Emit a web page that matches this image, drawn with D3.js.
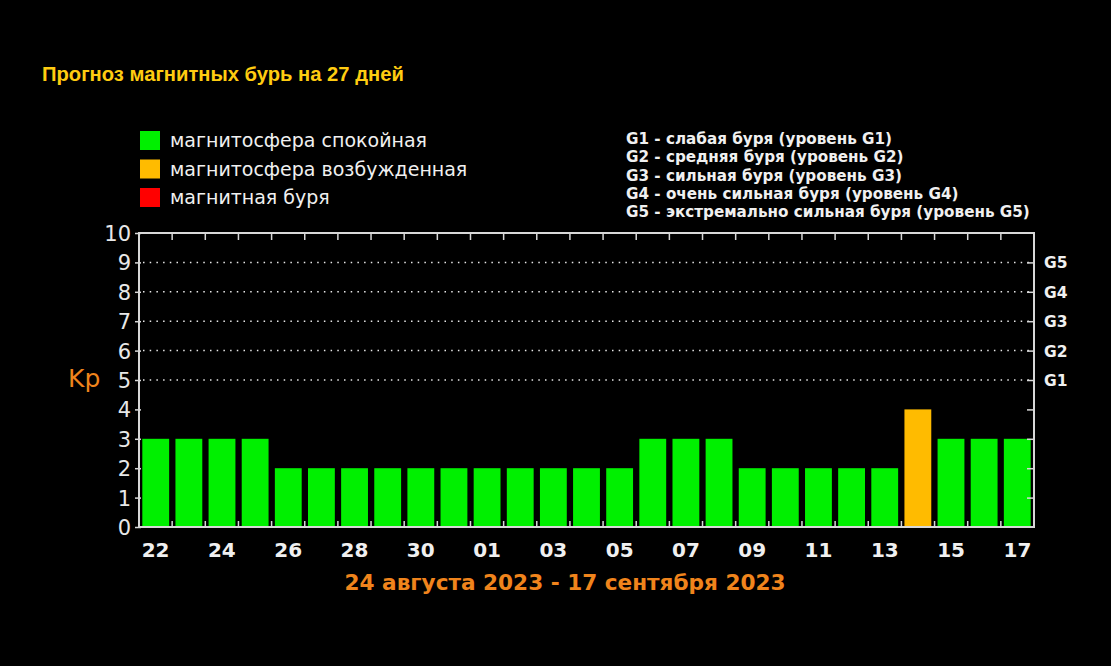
<!DOCTYPE html>
<html>
<head>
    <meta charset="utf-8">
    <title>Прогноз магнитных бурь</title>
    <script src="https://d3js.org/d3.v7.min.js"></script>
    <style>
        body { margin: 0; background: #000; }
    </style>
</head>
<body>
<div id="chart"></div>
<script>

    // days of the forecast (22 Aug - 17 Sep)
    var days = ["22", "23", "24", "25", "26", "27", "28", "29", "30", "31",
        "01", "02", "03", "04", "05", "06", "07", "08", "09", "10",
        "11", "12", "13", "14", "15", "16", "17"];

    // Kp index per day
    var kpValues = [3, 3, 3, 3, 2, 2, 2, 2, 2, 2,
        2, 2, 2, 2, 2, 3, 3, 3, 2, 2,
        2, 2, 2, 4, 3, 3, 3];

    var yTicks = [0, 1, 2, 3, 4, 5, 6, 7, 8, 9, 10];
    var gridLevels = [5, 6, 7, 8, 9];
    var gLabels = ["G1", "G2", "G3", "G4", "G5"];

    var legendItems = ["магнитосфера спокойная", "магнитосфера возбужденная", "магнитная буря"];
    var gNotes = [
        "G1 - слабая буря (уровень G1)",
        "G2 - средняя буря (уровень G2)",
        "G3 - сильная буря (уровень G3)",
        "G4 - очень сильная буря (уровень G4)",
        "G5 - экстремально сильная буря (уровень G5)"
    ];

    var W = 1111, H = 666;
    var pl = 139, pr = 1034, pt = 233, pb = 527;

    var colors = ["#00f000", "#ffbb00", "#ff0000"];
    function colorOf(v) { return v >= 5 ? colors[2] : (v >= 4 ? colors[1] : colors[0]); }

    var svg = d3.select("#chart").append("svg")
        .attr("width", W)
        .attr("height", H)
        .style("background", "#000");

    // title
    svg.append("text")
        .attr("x", 42).attr("y", 81)
        .attr("fill", "#ffcc11")
        .style("font-family", "Liberation Sans, Arial, sans-serif")
        .style("font-weight", "bold")
        .style("font-size", "20.2px")
        .text("Прогноз магнитных бурь на 27 дней");

    // legend on the left
    var leg = svg.append("g");
    legendItems.forEach(function (t, i) {
        leg.append("rect")
            .attr("x", 140).attr("y", 131 + i * 28.5)
            .attr("width", 20).attr("height", 19)
            .attr("fill", colors[i]);
        leg.append("text")
            .attr("x", 170).attr("y", 147 + i * 28.5)
            .attr("fill", "#f0f0f0")
            .style("font-family", "DejaVu Sans, Verdana, sans-serif")
            .style("font-size", "19px")
            .text(t);
    });

    // G notes on the right
    gNotes.forEach(function (t, i) {
        svg.append("text")
            .attr("x", 626).attr("y", 144 + i * 18.3)
            .attr("fill", "#f0f0f0")
            .style("font-family", "DejaVu Sans, Tahoma, sans-serif")
            .style("font-weight", "bold")
            .style("font-size", "15.2px")
            .text(t);
    });

    // scales
    var x = d3.scaleBand()
        .domain(days)
        .range([pl, pr])
        .paddingInner(0.19)
        .paddingOuter(0.1);

    var xEdge = d3.scaleBand()
        .domain(days)
        .range([pl, pr]);

    var y = d3.scaleLinear()
        .domain([0, 10])
        .range([pb, pt]);

    // dotted grid lines
    svg.selectAll("line.grid")
        .data(gridLevels)
        .enter().append("line")
        .attr("class", "grid")
        .attr("x1", pl + 4).attr("x2", pr)
        .attr("y1", function (d) { return y(d); })
        .attr("y2", function (d) { return y(d); })
        .attr("stroke", "#e8e8e8")
        .attr("stroke-width", 1.5)
        .attr("stroke-dasharray", "1.5,5.2");

    // bars
    svg.selectAll("rect.bar")
        .data(kpValues)
        .enter().append("rect")
        .attr("class", "bar")
        .attr("x", function (d, i) { return x(days[i]); })
        .attr("y", function (d) { return y(d); })
        .attr("width", x.bandwidth())
        .attr("height", function (d) { return y(0) - y(d); })
        .attr("fill", function (d) { return colorOf(d); });

    // frame
    var frameColor = "#d8d8d8";
    svg.append("rect")
        .attr("x", pl).attr("y", pt)
        .attr("width", pr - pl).attr("height", pb - pt)
        .attr("fill", "none")
        .attr("stroke", frameColor)
        .attr("stroke-width", 2);

    // ticks at day boundaries, top and bottom
    var edges = days.slice(1).map(function (d) { return xEdge(d); });
    svg.selectAll("line.btick")
        .data(edges)
        .enter().append("line")
        .attr("class", "btick")
        .attr("x1", function (d) { return d; }).attr("x2", function (d) { return d; })
        .attr("y1", pb).attr("y2", pb - 6)
        .attr("stroke", frameColor).attr("stroke-width", 1.5);
    svg.selectAll("line.ttick")
        .data(edges)
        .enter().append("line")
        .attr("class", "ttick")
        .attr("x1", function (d) { return d; }).attr("x2", function (d) { return d; })
        .attr("y1", pt).attr("y2", pt + 7)
        .attr("stroke", frameColor).attr("stroke-width", 1.5);

    // left axis
    var yAxis = d3.axisLeft(y).tickValues(yTicks).tickSize(6).tickPadding(4);
    var ya = svg.append("g")
        .attr("transform", "translate(" + (pl + 2) + ",0)")
        .call(yAxis);
    ya.select(".domain").remove();
    ya.selectAll("line").attr("stroke", frameColor).attr("stroke-width", 1.5);
    ya.selectAll("text")
        .attr("fill", "#e8e8e8")
        .style("font-family", "DejaVu Sans, Verdana, sans-serif")
        .style("font-size", "21px")
        .attr("dy", "0.36em");

    // right axis ticks (inward) with G labels
    var yr = svg.append("g")
        .attr("transform", "translate(" + pr + ",0)")
        .call(d3.axisLeft(y).tickValues(yTicks.slice(1, 10)).tickSize(7).tickFormat(""));
    yr.select(".domain").remove();
    yr.selectAll("line").attr("stroke", frameColor).attr("stroke-width", 1.5);

    svg.selectAll("text.glab")
        .data(gridLevels)
        .enter().append("text")
        .attr("class", "glab")
        .attr("x", 1044)
        .attr("y", function (d) { return y(d) + 6; })
        .attr("fill", "#f0f0f0")
        .style("font-family", "DejaVu Sans, Tahoma, sans-serif")
        .style("font-weight", "bold")
        .style("font-size", "15.5px")
        .text(function (d, i) { return gLabels[i]; });

    // Kp label
    svg.append("text")
        .attr("x", 68).attr("y", 387)
        .attr("fill", "#f0841c")
        .style("font-family", "DejaVu Sans, Verdana, sans-serif")
        .style("font-size", "25px")
        .text("Kp");

    // bottom day labels (every second day)
    svg.selectAll("text.xlab")
        .data(days.filter(function (d, i) { return i % 2 === 0; }))
        .enter().append("text")
        .attr("class", "xlab")
        .attr("x", function (d) { return xEdge(d) + xEdge.bandwidth() / 2; })
        .attr("y", 557)
        .attr("text-anchor", "middle")
        .attr("fill", "#f0f0f0")
        .style("font-family", "DejaVu Sans, Verdana, sans-serif")
        .style("font-weight", "bold")
        .style("font-size", "20px")
        .text(function (d) { return d; });

    // date range
    svg.append("text")
        .attr("x", 565).attr("y", 590)
        .attr("text-anchor", "middle")
        .attr("fill", "#f0841c")
        .style("font-family", "DejaVu Sans, Verdana, sans-serif")
        .style("font-weight", "bold")
        .style("font-size", "21.6px")
        .text("24 августа 2023 - 17 сентября 2023");

</script>
</body>
</html>
